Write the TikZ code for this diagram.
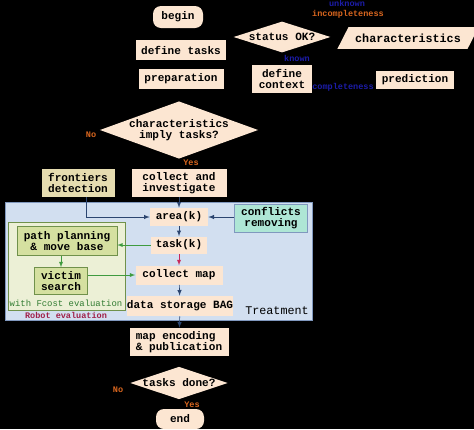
\documentclass[tikz,border=0pt]{standalone}
\usepackage{fontspec}
\setmonofont{Liberation Mono}
\usetikzlibrary{shapes.geometric}

\definecolor{peach}{RGB}{252,230,210}
\definecolor{frontan}{RGB}{229,220,176}
\definecolor{teal}{RGB}{174,230,213}
\definecolor{leaf}{RGB}{213,224,160}
\definecolor{leafline}{RGB}{112,145,75}
\definecolor{robotbg}{RGB}{236,240,214}
\definecolor{treatbg}{RGB}{210,223,240}
\definecolor{treatline}{RGB}{128,152,190}
\definecolor{lblorange}{RGB}{217,102,31}
\definecolor{lblblue}{RGB}{28,28,168}
\definecolor{flowblue}{RGB}{43,69,112}
\definecolor{flowgreen}{RGB}{63,155,63}
\definecolor{flowred}{RGB}{200,40,90}

\begin{document}
\begin{tikzpicture}
  [x=0.75pt,y=-0.75pt,>=latex,
   every node/.style={font=\ttfamily\bfseries\fontsize{8.3}{8.2}\selectfont,inner sep=0pt},
   wh/.style 2 args={minimum width=#1*0.75pt,minimum height=#2*0.75pt},
   box/.style={rectangle,fill=peach,align=center},
   term/.style={box,rounded corners=6pt},
   test/.style={diamond,fill=peach,aspect=3,align=center},
   robotbox/.style={rectangle,fill=leaf,draw=leafline,line width=0.4pt,align=center},
   tiny/.style={font=\ttfamily\bfseries\fontsize{6.4}{6.4}\selectfont},
   flow/.style={->,draw=flowblue,line width=0.5pt},
   hidden/.style={->,draw=black,line width=0.5pt}]

  % background
  \fill[black] (0,0) rectangle (474,429);
  \useasboundingbox (0,0) rectangle (474,429);

  % Treatment and robot frames
  \draw[fill=treatbg,draw=treatline] (5,202) rectangle (312,320);
  \draw[fill=robotbg,draw=leafline] (8,222) rectangle (125,310);
  \node (treat) at (277,311) {\mdseries\fontsize{8.8}{8.8}\selectfont Treatment};
  \node[tiny,text=flowgreen!80!black,font=\ttfamily\mdseries\fontsize{6.7}{6.7}\selectfont] (fcost) at (66,303) {with Fcost evaluation};
  \node[tiny,text=flowred!80!black] (roboteval) at (66,315) {Robot evaluation};

  % top part
  \node[term,wh={50}{22}] (begin) at (178,17) {begin};
  \node[box,wh={90}{20}] (deftasks) at (181,50) {define tasks};
  \node[box,wh={85}{20}] (prep) at (181,79) {preparation};
  \node[test,wh={97}{31}] (status) at (282,37) {status OK?};
  \node[trapezium,trapezium left angle=63,trapezium right angle=117,
        trapezium stretches=false,fill=peach,inner xsep=5pt,inner ysep=5pt,
        font=\ttfamily\bfseries\fontsize{8.8}{8.8}\selectfont] (charac) at (408,38) {characteristics};
  \node[box,wh={60}{28}] (defctx) at (282,79) {define\\context};
  \node[box,wh={78}{18}] (predict) at (415,80) {prediction};
  \node[test,aspect=2.76,wh={157}{57}] (imply) at (179,130) {characteristics\\imply tasks?};

  \node[tiny,text=lblblue] (unknown) at (347,3) {unknown};
  \node[tiny,text=lblorange] (incompl) at (348,14) {incompleteness};
  \node[tiny,text=lblblue] (known) at (297,58) {known};
  \node[tiny,text=lblblue] (compl) at (343,87) {completeness};
  \node[tiny,text=lblorange] (nofirst) at (91,135) {No};
  \node[tiny,text=lblorange] (yesfirst) at (191,163) {Yes};

  % middle part
  \node[box,fill=frontan,wh={73}{28},align=left] (frontiers) at (78,183) {frontiers\\detection};
  \node[box,wh={95}{28},align=left] (collect) at (179,183) {collect and\\investigate};
  \node[box,wh={58}{18}] (area) at (179,217) {area(k)};
  \node[box,fill=teal,draw=treatline,wh={73}{28}] (conflicts) at (271,218) {conflicts\\removing};
  \node[robotbox,wh={100}{29}] (path) at (67,241) {path planning\\\& move base};
  \node[box,wh={56}{17}] (task) at (179,245) {task(k)};
  \node[robotbox,wh={53}{27}] (victim) at (61,281) {victim\\search};
  \node[box,wh={87}{19}] (cmap) at (179,275) {collect map};
  \node[box,wh={103}{20}] (storage) at (180,306) {data storage BAG};

  % bottom part
  \node[box,wh={99}{28},align=left] (encode) at (179,342) {map encoding\\\& publication};
  \node[test,wh={97}{32}] (done) at (179,383) {tasks done?};
  \node[tiny,text=lblorange] (nolast) at (118,390) {No};
  \node[tiny,text=lblorange] (yeslast) at (192,405) {Yes};
  \node[term,wh={48}{20}] (end) at (180,419) {end};
  \coordinate (loop) at (110,383);

  % connectors on the black ground
  \foreach \from/\to in {begin/deftasks,deftasks/prep,prep/imply,imply/collect,
    status/charac,status/defctx,defctx/predict,deftasks/status,encode/done,done/end}
    \draw[hidden] (\from) -- (\to);
  \draw[hidden] (imply.west) -| (frontiers.north);
  \draw[hidden] (done.west) -- (loop);

  % connectors inside Treatment
  \draw[flow] ([xshift=6pt]frontiers.south) |- (area.west);
  \draw[flow] (collect) -- (area);
  \draw[flow] (conflicts.west |- area.east) -- (area.east);
  \draw[flow] (area) -- (task);
  \draw[->,flowgreen] (task.west) -- (task.west -| path.east);
  \draw[->,flowred] (task) -- (cmap);
  \draw[->,flowgreen] (victim.north |- path.south) -- (victim.north);
  \draw[->,flowgreen] (victim.east |- cmap.west) -- (cmap.west);
  \draw[flow] (cmap) -- (storage);
  \draw[flow] (storage) -- (encode);

\end{tikzpicture}
\end{document}
